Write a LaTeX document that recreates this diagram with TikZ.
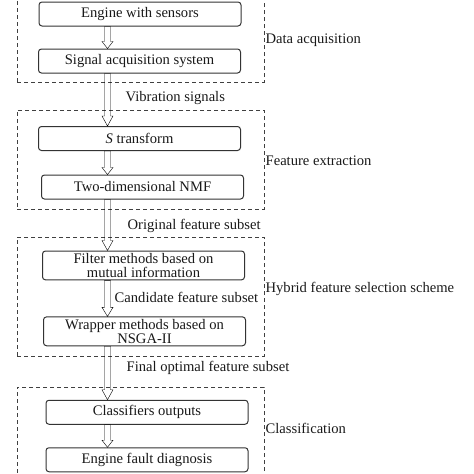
\documentclass[tikz,border=0pt]{standalone}
\usepackage{fontspec}
\setmainfont{Liberation Serif}
\usetikzlibrary{positioning, calc}

\begin{document}
\begin{tikzpicture}[x=1pt, y=-1pt, node distance=22pt,
    blk/.style={draw=black!80, line width=1pt, rounded corners=3pt, fill=white,
      minimum width=202pt, minimum height=24pt, inner sep=2pt, align=center,
      font=\fontsize{14.6}{14.6}\selectfont, text=black!90},
    grp/.style={draw=black!75, line width=0.9pt, dash pattern=on 4pt off 3pt, minimum width=247pt},
    tag/.style={font=\fontsize{14.6}{14.6}\selectfont, text=black!90, inner sep=1pt},
    harrow/.style={draw=black!80, line width=1pt, fill=white, to path={
      let \p1=(\tikztostart), \p2=(\tikztotarget) in
      (\x1-3pt,\y1) -- (\x1-3pt,\y2+#1) -- (\x1-5.5pt,\y2+#1) -- (\x1,\y2)
      -- (\x1+5.5pt,\y2+#1) -- (\x1+3pt,\y2+#1) -- (\x1+3pt,\y1) -- cycle}}]
      \useasboundingbox (0,0) rectangle (474,474);

      % Dashed stages
      \node[grp, minimum height=84pt] (g1) at (140.5,40) {};
      \node[grp, minimum height=99pt] (g2) at (140.5,159.5) {};
      \node[grp, minimum height=119pt] (g3) at (140.5,296.5) {};
      \node[grp, minimum height=110pt] (g4) at (140.5,442) {};

      \node[tag, anchor=west] (t1) at (g1.east) {Data acquisition};
      \node[tag, anchor=west, yshift=-1.5pt] (t2) at (g2.east) {Feature extraction};
      \node[tag, anchor=west, yshift=7.5pt] (t3) at (g3.east) {Hybrid feature selection scheme};
      \node[tag, anchor=west, yshift=14pt] (t4) at (g4.east) {Classification};

      % Processing steps
      \node[blk] (eng) at (140,14) {Engine with sensors};
      \node[blk, below=22pt of eng, xshift=-0.5pt] (sig) {Signal acquisition system};
      \node[blk, below=52.5pt of sig] (st) {\textit{S} transform};
      \node[blk, below=23.5pt of st, xshift=3pt] (nmf) {Two-dimensional NMF};
      \node[blk, below=51pt of nmf, xshift=1pt] (fil) {Filter methods based on\\mutual information};
      \node[blk, below=36pt of fil, xshift=1pt] (wra) {Wrapper methods based on\\NSGA-II};
      \node[blk, below=53.5pt of wra, xshift=2.5pt] (cls) {Classifiers outputs};
      \node[blk, below=22.5pt of cls] (flt) {Engine fault diagnosis};

      % Hollow arrows
      \coordinate (ax) at (107.5,0);
      \draw (eng.south -| ax) to[harrow=7pt] (sig.north -| ax);
      \draw (sig.south -| ax) to[harrow=10pt] (st.north -| ax);
      \draw (st.south -| ax) to[harrow=7pt] (nmf.north -| ax);
      \draw (nmf.south -| ax) to[harrow=10pt] (fil.north -| ax);
      \draw (fil.south -| ax) to[harrow=9pt] (wra.north -| ax);
      \draw (wra.south -| ax) to[harrow=10pt] (cls.north -| ax);
      \draw (cls.south -| ax) to[harrow=7pt] (flt.north -| ax);

      % Arrow labels
      \path (sig.south -| ax) -- (st.north -| ax) node[tag, pos=0.46, right=17pt] (l1) {Vibration signals};
      \path (nmf.south -| ax) -- (fil.north -| ax) node[tag, pos=0.51, right=19pt] (l2) {Original feature subset};
      \path (fil.south -| ax) -- (wra.north -| ax) node[tag, pos=0.47, right=6pt] (l3) {Candidate feature subset};
      \path (wra.south -| ax) -- (cls.north -| ax) node[tag, pos=0.41, right=18pt] (l4) {Final optimal feature subset};
\end{tikzpicture}
\end{document}
